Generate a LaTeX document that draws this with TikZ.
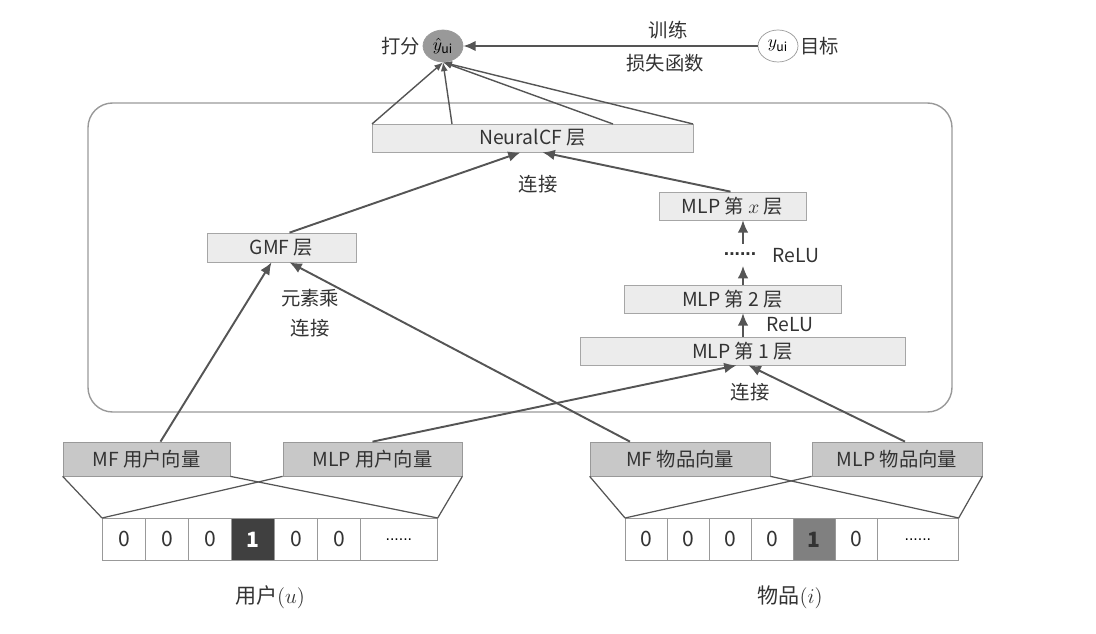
\documentclass[tikz,border=0pt]{standalone}
\usepackage{fontspec}
\setmainfont{Noto Sans CJK SC}
\setsansfont{Noto Sans CJK SC}
\newfontfamily\latf{Liberation Sans}
\usetikzlibrary{arrows.meta,shapes.geometric}
\definecolor{lay}{HTML}{ECECEC}
\definecolor{vec}{HTML}{C8C8C8}
\definecolor{ln}{HTML}{555555}
\tikzset{
  lbox/.style={draw=gray!70,fill=lay,inner sep=0pt},
  vbox/.style={draw=gray!80,fill=vec,inner sep=0pt},
  cell/.style={draw=gray!80,fill=white,inner sep=0pt},
  arr/.style={draw=ln,line width=1.1pt,-{Latex[length=7pt,width=6pt]}},
  thin/.style={draw=ln,line width=0.7pt},
  lab/.style={font=\fontsize{11}{13}\selectfont,text=black!80,inner sep=1pt},
}
\begin{document}
\begin{tikzpicture}[x=0.02cm,y=-0.02cm]
\useasboundingbox (0,0) rectangle (1096,634);
\draw[gray!80,line width=0.8pt,rounded corners=14pt] (88,103) rectangle (952,412);
% layers
\node[lbox,minimum width=321*0.02cm,minimum height=28*0.02cm] (ncf) at (532.5,138) {};
\node[lab] at (ncf) {NeuralCF 层};
\node[lbox,minimum width=149*0.02cm,minimum height=29*0.02cm] (gmf) at (281.5,247.5) {};
\node[lab] at (gmf) {GMF 层};
\node[lbox,minimum width=147*0.02cm,minimum height=28*0.02cm] (mx) at (732.5,206) {};
\node[lab] at (mx) {MLP 第 $x$ 层};
\node[lbox,minimum width=217*0.02cm,minimum height=28*0.02cm] (m2) at (732.5,299) {};
\node[lab] at (m2) {MLP 第 2 层};
\node[lbox,minimum width=325*0.02cm,minimum height=28*0.02cm] (m1) at (742.5,351) {};
\node[lab] at (m1) {MLP 第 1 层};
\node[lab,font=\latf\fontsize{11}{13}\selectfont\bfseries] (dots) at (740,254) {......};
\node[lab] (relu1) at (796,256) {ReLU};
\node[lab] (relu2) at (790,325) {ReLU};
\coordinate (d1) at (743,244);
\coordinate (d2) at (743,266);
\draw[arr,line width=0.9pt] (d1) -- (mx.south -| d1);
\draw[arr,line width=0.9pt] (m2.north -| d2) -- (d2);
\draw[arr,line width=0.9pt] (m1.north -| d1) -- (m2.south -| d1);
% embedding boxes
\node[vbox,minimum width=167*0.02cm,minimum height=34*0.02cm] (mfu) at (146.5,459) {};
\node[lab] at (mfu) {MF 用户向量};
\node[vbox,minimum width=179*0.02cm,minimum height=34*0.02cm] (mlpu) at (372.5,459) {};
\node[lab] at (mlpu) {MLP 用户向量};
\node[vbox,minimum width=180*0.02cm,minimum height=34*0.02cm] (mfi) at (680,459) {};
\node[lab] at (mfi) {MF 物品向量};
\node[vbox,minimum width=170*0.02cm,minimum height=34*0.02cm] (mlpi) at (897,459) {};
\node[lab] at (mlpi) {MLP 物品向量};
% user vector
\foreach \x/\t [count=\i] in {102/0,145/0,188/0,231/1,274/0,317/0}{
  \ifnum\i=4
    \node[cell,fill=black!75,minimum width=43*0.02cm,minimum height=42*0.02cm,anchor=north west,text=white,font=\fontsize{12}{14}\selectfont\bfseries] (u\i) at (\x,518) {\t};
  \else
    \node[cell,minimum width=43*0.02cm,minimum height=42*0.02cm,anchor=north west,font=\fontsize{12}{14}\selectfont,text=black!80] (u\i) at (\x,518) {\t};
  \fi}
\node[cell,minimum width=77*0.02cm,minimum height=42*0.02cm,anchor=north west,font=\latf\fontsize{9}{11}\selectfont] (u7) at (360,518) {......};
% item vector
\foreach \x/\t [count=\i] in {625/0,667/0,709/0,751/0,793/1,835/0}{
  \ifnum\i=5
    \node[cell,fill=black!50,minimum width=42*0.02cm,minimum height=42*0.02cm,anchor=north west,text=black!80,font=\fontsize{12}{14}\selectfont\bfseries] (i\i) at (\x,518) {\t};
  \else
    \node[cell,minimum width=42*0.02cm,minimum height=42*0.02cm,anchor=north west,font=\fontsize{12}{14}\selectfont,text=black!80] (i\i) at (\x,518) {\t};
  \fi}
\node[cell,minimum width=81*0.02cm,minimum height=42*0.02cm,anchor=north west,font=\latf\fontsize{9}{11}\selectfont] (i7) at (877,518) {......};
\node[lab,font=\fontsize{12}{14}\selectfont] (ul) at (270,597) {用户$(u)$};
\node[lab,font=\fontsize{12}{14}\selectfont] (il) at (790,597) {物品$(i)$};
% trapezoid lines
\draw[thin] (mfu.south west) -- (u1.north west);
\draw[thin] (mfu.south east) -- (u7.north east);
\draw[thin] (mlpu.south west) -- (u1.north west);
\draw[thin] (mlpu.south east) -- (u7.north east);
\draw[thin] (mfi.south west) -- (i1.north west);
\draw[thin] (mfi.south east) -- (i7.north east);
\draw[thin] (mlpi.south west) -- (i1.north west);
\draw[thin] (mlpi.south east) -- (i7.north east);
% arrows
\draw[arr] ([xshift=14*0.02cm]mfu.north) -- ([xshift=-10*0.02cm]gmf.south);
\draw[arr] ([xshift=-50*0.02cm]mfi.north) -- ([xshift=8*0.02cm]gmf.south);
\draw[arr] (mlpu.north) -- ([xshift=-6*0.02cm]m1.south);
\draw[arr] ([xshift=8*0.02cm]mlpi.north) -- ([xshift=6*0.02cm]m1.south);
\draw[arr] ([xshift=8*0.02cm]gmf.north) -- ([xshift=-12*0.02cm]ncf.south);
\draw[arr] ([xshift=-2*0.02cm]mx.north) -- ([xshift=10*0.02cm]ncf.south);
\node[lab] at (310,298) {元素乘};
\node[lab] at (310,328) {连接};
\node[lab] at (538,184) {连接};
\node[lab] at (750,392) {连接};
% output
\node[draw=gray!80,fill=black!40,ellipse,minimum width=40*0.02cm,minimum height=32*0.02cm,inner sep=0pt] (yh) at (443,46) {};
\node[inner sep=0pt] at (yh) {$\hat{y}_{\mathrm{ui}}$};
\node[draw=gray!80,fill=white,ellipse,minimum width=40*0.02cm,minimum height=32*0.02cm,inner sep=0pt] (y) at (778,46) {};
\node[inner sep=0pt] at (y) {$y_{\mathrm{ui}}$};
\node[lab,anchor=east] at (422,46) {打分};
\node[lab,anchor=west] at (798,46) {目标};
\draw[arr] (y) -- (yh);
\node[lab] at (668,30) {训练};
\node[lab] at (665,63) {损失函数};
\foreach \x in {372,452,613,693}{
  \draw[thin,line width=0.8pt,-{Latex[length=5pt,width=4pt]}] (\x,124) -- (yh.south);}
\end{tikzpicture}
\end{document}
